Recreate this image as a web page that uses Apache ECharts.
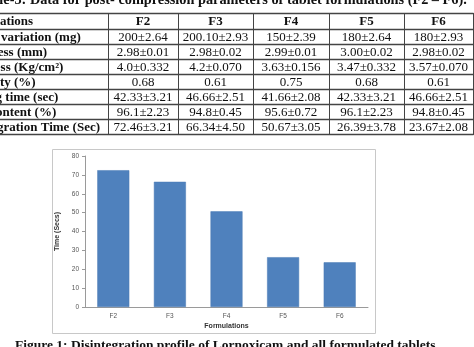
<!DOCTYPE html>
<html>
<head>
<meta charset="utf-8">
<script src="https://cdn.jsdelivr.net/npm/echarts@6/dist/echarts.min.js"></script>
<style>
html,body{margin:0;padding:0;background:#fff;}
#c{width:474px;height:347px;}
</style>
</head>
<body>
<div id="c"></div>
<script>
// ---- data ----
const tableTitle = "Table-3: Data for post- compression parameters of tablet formulations (F2 \u2013 F6).";
const headerLabel = "Formulations";
const formulations = ["F2", "F3", "F4", "F5", "F6"];
const paramLabels = ["Weight variation (mg)", "Thickness (mm)", "Hardness (Kg/cm\u00b2)", "Friability (%)", "Wetting time (sec)", "Drug content (%)", "Disintegration Time (Sec)"];
const weightVariation = ["200\u00b12.64", "200.10\u00b12.93", "150\u00b12.39", "180\u00b12.64", "180\u00b12.93"];
const thickness = ["2.98\u00b10.01", "2.98\u00b10.02", "2.99\u00b10.01", "3.00\u00b10.02", "2.98\u00b10.02"];
const hardness = ["4.0\u00b10.332", "4.2\u00b10.070", "3.63\u00b10.156", "3.47\u00b10.332", "3.57\u00b10.070"];
const friability = ["0.68", "0.61", "0.75", "0.68", "0.61"];
const wettingTime = ["42.33\u00b13.21", "46.66\u00b12.51", "41.66\u00b12.08", "42.33\u00b13.21", "46.66\u00b12.51"];
const drugContent = ["96.1\u00b12.23", "94.8\u00b10.45", "95.6\u00b10.72", "96.1\u00b12.23", "94.8\u00b10.45"];
const disintegrationText = ["72.46\u00b13.21", "66.34\u00b14.50", "50.67\u00b13.05", "26.39\u00b13.78", "23.67\u00b12.08"];
const disintegrationTime = [72.46, 66.34, 50.67, 26.39, 23.67];
const yAxisName = "Time (Secs)";
const xAxisName = "Formulations";
const captionText = "Figure 1: Disintegration profile of Lornoxicam and all formulated tablets";

// ---- layout ----
const tableRows = [weightVariation, thickness, hardness, friability, wettingTime, drugContent, disintegrationText];
const colX = [-60, 108, 178, 253, 329, 404, 473];
const rowY = [13, 29, 44, 59, 74, 89, 104, 119, 134];
const serif = "'Liberation Serif', 'Times New Roman', serif";
const sans = "'Liberation Sans', Arial, sans-serif";

const graphics = [];
// title
graphics.push({type:'text', x:-24, y:7, silent:true, style:{text:tableTitle, font:"bold 14.3px " + serif, fill:'#111', textAlign:'left', textVerticalAlign:'bottom'}});
// table lines
rowY.forEach(function(y){
  graphics.push({type:'line', silent:true, shape:{x1:-60, y1:y+0.5, x2:473.5, y2:y+0.5}, style:{stroke:'#444', lineWidth:1.3}});
});
colX.forEach(function(x){
  graphics.push({type:'line', silent:true, shape:{x1:x+0.5, y1:rowY[0], x2:x+0.5, y2:rowY[rowY.length-1]+1}, style:{stroke:'#444', lineWidth:1}});
});
function rowMid(i){ return (rowY[i] + rowY[i+1]) / 2 + 1; }
// header
graphics.push({type:'text', x:-42, y:rowMid(0), silent:true, style:{text:headerLabel, font:"bold 13px " + serif, fill:'#111', textAlign:'left', textVerticalAlign:'middle'}});
formulations.forEach(function(f, j){
  graphics.push({type:'text', x:(colX[j+1]+colX[j+2])/2, y:rowMid(0), silent:true, style:{text:f, font:"bold 13px " + serif, fill:'#111', textAlign:'center', textVerticalAlign:'middle'}});
});
paramLabels.forEach(function(lbl, i){
  graphics.push({type:'text', x:-42, y:rowMid(i+1), silent:true, style:{text:lbl, font:"bold 13px " + serif, fill:'#111', textAlign:'left', textVerticalAlign:'middle'}});
  tableRows[i].forEach(function(v, j){
    graphics.push({type:'text', x:(colX[j+1]+colX[j+2])/2, y:rowMid(i+1), silent:true, style:{text:v, font:"13px " + serif, fill:'#111', textAlign:'center', textVerticalAlign:'middle'}});
  });
});
// chart frame
graphics.push({type:'rect', silent:true, shape:{x:52.5, y:149.5, width:323, height:184}, style:{fill:'none', stroke:'#c8c8c8', lineWidth:1}});
// caption
graphics.push({type:'text', x:15, y:339, silent:true, style:{text:captionText, font:"bold 13.5px " + serif, fill:'#111', textAlign:'left', textVerticalAlign:'top'}});

const chart = echarts.init(document.getElementById('c'), null, {renderer:'canvas'});
chart.setOption({
  animation:false,
  backgroundColor:'#fff',
  grid:{left:85, right:106, top:156, bottom:40, containLabel:false},
  xAxis:{
    type:'category', data:formulations,
    name:xAxisName, nameLocation:'middle', nameGap:16,
    nameTextStyle:{fontSize:7, fontWeight:'bold', color:'#333', fontFamily:sans},
    axisLine:{lineStyle:{color:'#9a9a9a', width:1}},
    axisTick:{show:false},
    axisLabel:{fontSize:6.5, color:'#555', margin:6, fontFamily:sans}
  },
  yAxis:{
    type:'value', min:0, max:80, interval:10,
    name:yAxisName, nameLocation:'middle', nameGap:19, nameRotate:90,
    nameTextStyle:{fontSize:7, fontWeight:'bold', color:'#333', fontFamily:sans},
    axisLine:{show:true, lineStyle:{color:'#9a9a9a', width:1}},
    axisTick:{show:true, length:3, lineStyle:{color:'#9a9a9a'}},
    splitLine:{show:false},
    axisLabel:{fontSize:6.5, color:'#555', margin:6, fontFamily:sans}
  },
  series:[{
    type:'bar', data:disintegrationTime, barWidth:32,
    itemStyle:{color:'#4f81bd', borderColor:'#4a7ab5', borderWidth:0.5}
  }],
  graphic:graphics
});
</script>
</body>
</html>
